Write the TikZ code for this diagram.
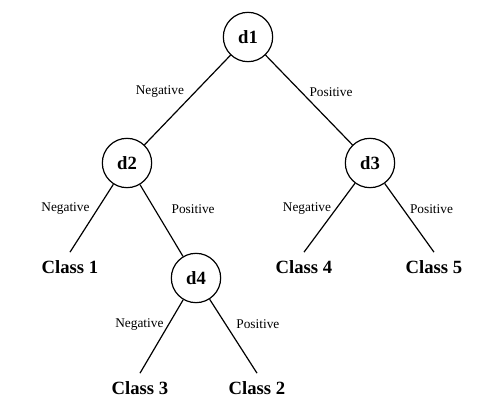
\documentclass[tikz,border=0pt]{standalone}
\usepackage{fontspec}
\setmainfont{Liberation Serif}
\usetikzlibrary{positioning}
\tikzset{
  dnode/.style={draw, circle, line width=0.9pt, minimum size=37pt, inner sep=0pt, font=\fontsize{14}{16}\selectfont\bfseries},
  leaf/.style={inner sep=6pt, font=\fontsize{14}{16}\selectfont\bfseries},
  branch/.style={line width=0.9pt},
  lbl/.style={font=\fontsize{10}{12}\selectfont}
}
\begin{document}
\begin{tikzpicture}[on grid]
  \useasboundingbox (-186pt,27.75pt) rectangle (186pt,-287.25pt);
  \node[dnode] (d1) {d1};
  \node[dnode, below left=94.5pt and 90.75pt of d1] (d2) {d2};
  \node[dnode, below right=94.5pt and 91.5pt of d1] (d3) {d3};
  \node[leaf, below left=78pt and 42.75pt of d2] (c1) {Class 1};
  \node[dnode, below right=86.25pt and 51.75pt of d2] (d4) {d4};
  \node[leaf, below left=78pt and 49.5pt of d3] (c4) {Class 4};
  \node[leaf, below right=78pt and 48pt of d3] (c5) {Class 5};
  \node[leaf, below left=82.5pt and 42pt of d4] (c3) {Class 3};
  \node[leaf, below right=82.5pt and 45.75pt of d4] (c2) {Class 2};
  \draw[branch] (d1) -- node[lbl, pos=0.41, left=4.7pt]{Negative} (d2);
  \draw[branch] (d1) -- node[lbl, pos=0.41, right=2.5pt]{Positive} (d3);
  \draw[branch] (d2) -- node[lbl, pos=0.36, left=2.4pt]{Negative} (c1.north);
  \draw[branch] (d2) -- node[lbl, pos=0.34, right=9pt]{Positive} (d4);
  \draw[branch] (d3) -- node[lbl, pos=0.37, left]{Negative} (c4.north);
  \draw[branch] (d3) -- node[lbl, pos=0.37, right=1.5pt]{Positive} (c5.north);
  \draw[branch] (d4) -- node[lbl, pos=0.34, left]{Negative} (c3.north);
  \draw[branch] (d4) -- node[lbl, pos=0.34, right=4.2pt]{Positive} (c2.north);
\end{tikzpicture}
\end{document}
